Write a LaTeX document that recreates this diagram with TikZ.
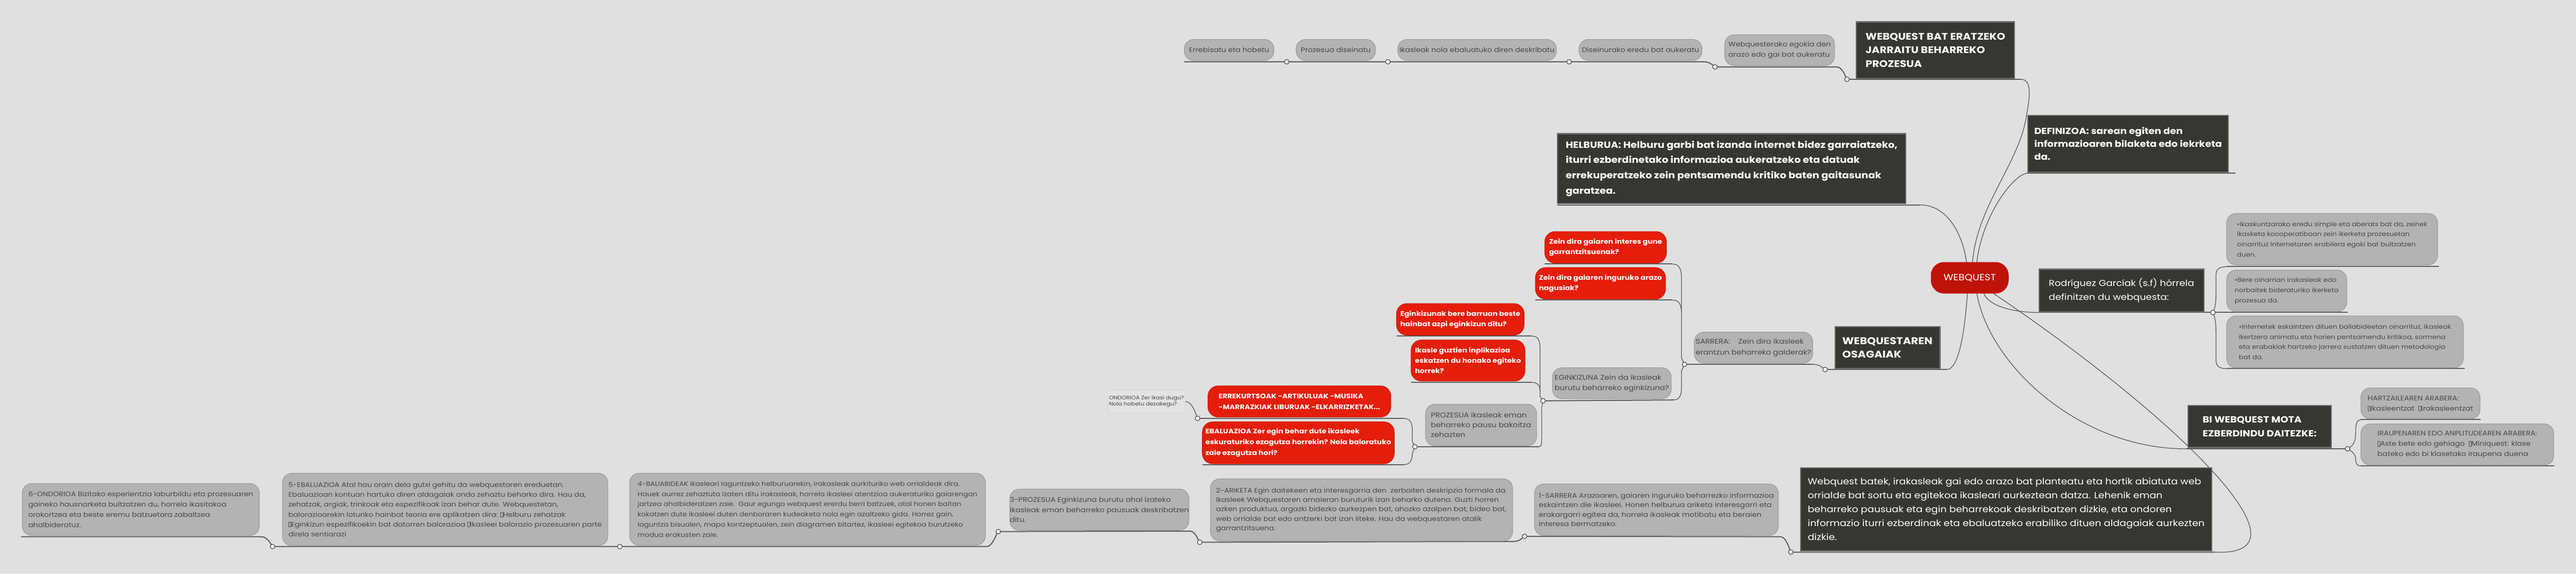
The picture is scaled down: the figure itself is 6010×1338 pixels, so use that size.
\documentclass[tikz,border=0pt]{standalone}
\usepackage{fontspec}
\setmainfont{Poppins}[FakeStretch=1.12]
\usetikzlibrary{backgrounds}
\definecolor{bg}{HTML}{E0E0E0}
\definecolor{gfill}{HTML}{B3B3B3}
\definecolor{gborder}{HTML}{9C9C9C}
\definecolor{gtext}{HTML}{484848}
\definecolor{rfill}{HTML}{E41E0B}
\definecolor{rborder}{HTML}{C8180A}
\definecolor{dfill}{HTML}{363632}
\definecolor{dborder}{HTML}{6A6A6A}
\definecolor{wqfill}{HTML}{BE1308}
\definecolor{lcol}{HTML}{5A5A5A}
\definecolor{cfill}{HTML}{F2F2F2}
\definecolor{lfill}{HTML}{E3E3E3}
\definecolor{lborder}{HTML}{D4D4D4}
\newcommand\myfs[2]{\fontsize{#1}{#2}\selectfont}
\newcommand\tofu{{\fboxsep=0pt\fboxrule=0.6pt\fbox{\rule{0pt}{0.7em}\hspace{0.32em}}}}
\tikzset{
  base/.style={inner sep=0pt, outer sep=0pt, align=left, anchor=north west},
  gbox/.style={base, draw=gborder, line width=1.5pt, fill=gfill, rounded corners=22pt, text=gtext},
  rbox/.style={base, draw=rborder, line width=1pt, fill=rfill, rounded corners=24pt, text=white, font=\bfseries},
  dbox/.style={base, draw=dborder, line width=2.6pt, fill=dfill, text=white},
  lbox/.style={base, draw=lborder, line width=1pt, fill=lfill, text=gtext},
  uline/.style={draw=lcol, line width=2.4pt},
  conn/.style={draw=lcol, line width=1.6pt},
  jc/.style={circle, draw=lcol, line width=1.6pt, fill=cfill, minimum size=11pt, inner sep=0pt, outer sep=0pt},
}
\begin{document}
\begin{tikzpicture}[x=1pt,y=-1pt]
\useasboundingbox (0,0) rectangle (6010,1338);

% ---------- top chain ----------
\node[gbox, minimum width=209pt, minimum height=49pt, font=\myfs{15.5}{20}] (nErr) at (2763,92) {Errebisatu eta hobetu};
\node[gbox, minimum width=185pt, minimum height=49pt, font=\myfs{15.5}{20}] (nProz) at (3024,92) {Prozesua diseinatu};
\node[gbox, minimum width=370pt, minimum height=49pt, font=\myfs{15.5}{20}] (nIkas) at (3261,92) {Ikasleak nola ebaluatuko diren deskribatu};
\node[gbox, minimum width=287pt, minimum height=49pt, font=\myfs{15.5}{20}] (nDis) at (3684,92) {Diseinurako eredu bat aukeratu};
\node[gbox, minimum width=256pt, minimum height=72pt, font=\myfs{15.5}{24}] (nWebq) at (4024,81) {Webquesterako egokia den\\arazo edo gai bat aukeratu};
\node[dbox, minimum width=369pt, minimum height=132pt, font=\myfs{22.3}{32}\bfseries] (dProc) at (4331,51) {WEBQUEST BAT ERATZEKO\\JARRAITU BEHARREKO\\PROZESUA};

% ---------- centre and big boxes ----------
\node[base, anchor=center, draw=rborder, line width=1.5pt, fill=wqfill, rounded corners=30pt, minimum width=180pt, minimum height=72pt, text=white, font=\myfs{21}{26}] (WQ) at (4595.5,648) {WEBQUEST};
\node[dbox, minimum width=812pt, minimum height=163pt, font=\myfs{21}{36}\bfseries] (dHelb) at (3634,312) {HELBURUA: Helburu garbi bat izanda internet bidez garraiatzeko,\\iturri ezberdinetako informazioa aukeratzeko eta datuak\\errekuperatzeko zein pentsamendu kritiko baten gaitasunak\\garatzea.};
\node[dbox, minimum width=468pt, minimum height=132pt, font=\myfs{20.5}{30}\bfseries] (dDef) at (4731,269) {DEFINIZOA: sarean egiten den\\informazioaren bilaketa edo iekrketa\\da.};

% ---------- osagaiak subtree ----------
\node[rbox, minimum width=284pt, minimum height=74pt, font=\myfs{15.3}{24}\bfseries] (rZ1) at (3604,540) {Zein dira gaiaren interes gune\\garrantzitsuenak?};
\node[rbox, minimum width=304pt, minimum height=74pt, font=\myfs{15.3}{24}\bfseries] (rZ2) at (3582,624) {Zein dira gaiaren inguruko arazo\\nagusiak?};
\node[gbox, minimum width=276pt, minimum height=72pt, font=\myfs{16}{25}] (gSar) at (3953,775) {SARRERA:\ \ \ \ Zein dira ikasleek\\erantzun beharreko galderak?};
\node[dbox, minimum width=245pt, minimum height=98pt, font=\myfs{23}{32}\bfseries] (dOsg) at (4281,762) {WEBQUESTAREN\\OSAGAIAK};
\node[rbox, minimum width=298pt, minimum height=74pt, font=\myfs{15.3}{24}\bfseries] (rEgk) at (3258,708) {Eginkizunak bere barruan beste\\hainbat azpi eginkizun ditu?};
\node[rbox, minimum width=266pt, minimum height=96pt, font=\myfs{15.3}{24}\bfseries] (rIks) at (3292,793) {Ikasle guztien inplikazioa\\eskatzen du honako egiteko\\horrek?};
\node[gbox, minimum width=277pt, minimum height=72pt, font=\myfs{16}{24}] (gEgk) at (3622,858) {EGINKIZUNA Zein da ikasleak\\burutu beharreko eginkizuna?};
\node[gbox, minimum width=259pt, minimum height=97pt, font=\myfs{16}{23}] (gPrz) at (3326,943) {PROZESUA Ikasleak eman\\beharreko pausu bakoitza\\zehazten};
\node[rbox, minimum width=427pt, minimum height=73pt, font=\myfs{15.3}{25}\bfseries] (rErr) at (2818,900) {ERREKURTSOAK -ARTIKULUAK -MUSIKA\\-MARRAZKIAK LIBURUAK -ELKARRIZKETAK...};
\node[rbox, minimum width=448pt, minimum height=98pt, font=\myfs{15.3}{25}\bfseries] (rEbl) at (2805,984) {EBALUAZIOA Zer egin behar dute ikasleek\\eskuraturiko ezagutza horrekin? Nola baloratuko\\zaie ezagutza hori?};
\node[lbox, minimum width=180pt, minimum height=53pt, font=\myfs{12}{15}] (nOnd) at (2585,910) {ONDORIOA Zer ikasi dugu?\\Nola hobetu dezakegu?};

% ---------- Rodriguez subtree ----------
\node[dbox, minimum width=385pt, minimum height=99pt, font=\myfs{20}{33}] (dRod) at (4757,628) {Rodríguez Garcíak (s.f) hórrela\\definitzen du webquesta:};
\node[gbox, minimum width=492pt, minimum height=120pt, font=\myfs{14.2}{23.7}] (gR1) at (5195,498) {•Ikaskuntzarako eredu simple eta aberats bat da, zeinek\\ikasketa koooperatiboan zein ikerketa prozesuetan\\oinarrituz Internetaren erabilera egoki bat bultzatzen\\duen.};
\node[gbox, minimum width=280pt, minimum height=97pt, font=\myfs{14.2}{23.7}] (gR2) at (5195,630) {•Bere oinarrian irakasleak edo\\norbaitek bideraturiko ikerketa\\prozesua da.};
\node[gbox, minimum width=552pt, minimum height=121pt, font=\myfs{14.2}{23.7}] (gR3) at (5195,737) {•Internetek eskaintzen dituen baliabideetan oinarrituz, ikasleak\\ikertzera animatu eta horien pentsamendu kritikoa, sormena\\eta erabakiak hartzeko jarrera sustatzen dituen metodologia\\bat da.};

% ---------- BI WEBQUEST subtree ----------
\node[dbox, minimum width=334pt, minimum height=98pt, font=\myfs{20.8}{32}\bfseries] (dBi) at (5105,946) {BI WEBQUEST MOTA\\EZBERDINDU DAITEZKE:};
\node[gbox, minimum width=278pt, minimum height=72pt, font=\myfs{15.5}{24}] (gHz) at (5508,905) {HARTZAILEAREN ARABERA:\\\tofu Ikasleentzat\ \ \tofu Irakasleentzat};
\node[gbox, minimum width=450pt, minimum height=96pt, font=\myfs{15.5}{24}] (gIr) at (5508,989) {IRAUPENAREN EDO ANPLITUDEAREN ARABERA:\\\tofu Aste bete edo gehiago\ \ \tofu Miniquest: klase\\bateko edo bi klasetako iraupena duena};

% ---------- bottom chain ----------
\node[dbox, minimum width=959pt, minimum height=194pt, font=\myfs{20.5}{32.5}] (dWb) at (4201,1091) {Webquest batek, irakasleak gai edo arazo bat planteatu eta hortik abiatuta web\\orrialde bat sortu eta egitekoa ikasleari aurkeztean datza. Lehenik eman\\beharreko pausuak eta egin beharrekoak deskribatzen dizkie, eta ondoren\\informazio iturri ezberdinak eta ebaluatzeko erabiliko dituen aldagaiak aurkezten\\dizkie.};
\node[gbox, minimum width=569pt, minimum height=120pt, font=\myfs{15.5}{22}] (gS1) at (3580,1129) {1-SARRERA Arazoaren, gaiaren inguruko beharrezko informazioa\\eskaintzen die ikasleei. Honen helburua ariketa interesgarri eta\\erakargarri egitea da, horrela ikasleak motibatu eta beraien\\interesa bermatzeko.};
\node[gbox, minimum width=705pt, minimum height=145pt, font=\myfs{15.2}{22}] (gS2) at (2824,1117) {2-ARIKETA Egin daitekeen eta interesgarria den\ \ zerbaiten deskripzio formala da.\\Ikasleek Webquestaren amaieran buruturik izan beharko dutena. Guzti horren\\azken produktua, argazki bidezko aurkezpen bat, ahozko azalpen bat, bideo bat,\\web orrialde bat edo antzerki bat izan liteke. Hau da webquestaren atalik\\garrantzitsuena.};
\node[gbox, minimum width=413pt, minimum height=96pt, font=\myfs{15.6}{23}] (gS3) at (2356,1141) {3-PROZESUA Eginkizuna burutu ahal izateko\\ikasleak eman beharreko pausuak deskribatzen\\ditu.};
\node[gbox, minimum width=830pt, minimum height=168pt, font=\myfs{14.7}{24}] (gS4) at (1469,1104) {4-BALIABIDEAK Ikasleari laguntzeko helburuarekin, irakasleak aurkituriko web orrialdeak dira.\\Hauek aurrez zehaztuta izaten ditu irakasleak, horrela ikasleei atentzioa aukeraturiko gaiarengan\\jartzea ahalbideratzen zaie.\ \ Gaur egungo webquest ererdu berri batzuek, atal honen baitan\\kokatzen dute ikasleei duten denboraren kudeaketa nola egin azaltzeko gida. Horrez gain,\\laguntza bisualen, mapa kontzeptualen, zein diagramen bitartez, ikasleei egitekoa burutzeko\\modua erakusten zaie.};
\node[gbox, minimum width=759pt, minimum height=169pt, font=\myfs{15.2}{23}] (gS5) at (659,1104) {5-EBALUAZIOA Atal hau orain dela gutxi gehitu da webquestaren ereduetan.\\Ebaluazioan kontuan hartuko diren aldagaiak ondo zehaztu beharko dira. Hau da,\\zehatzak, argiak, trinkoak eta espezifikoak izan behar dute. Webquestetan,\\balorazioarekin loturiko hainbat teoria ere aplikatzen dira: \tofu Helburu zehatzak\\\tofu Eginkizun espezifikoekin bat datorren balorazioa \tofu Ikasleei balorazio prozesuaren parte\\direla sentiarazi};
\node[gbox, minimum width=553pt, minimum height=121pt, font=\myfs{15.3}{24}] (gS6) at (52,1128) {6-ONDORIOA Bizitako esperientzia laburbildu eta prozesuaren\\gaineko hausnarketa bultzatzen du, horrela ikasitakoa\\orokortzea eta beste eremu batzuetara zabaltzea\\ahalbideratuz.};

% ---------- junction circles ----------
\node[jc] (j1) at (3002,144) {};
\node[jc] (j2) at (3238,144) {};
\node[jc] (j3) at (3661,144) {};
\node[jc] (j4) at (4001,156) {};
\node[jc] (j5) at (4309,185) {};
\node[jc] (jSar) at (3930,850) {};
\node[jc] (jOsg) at (4258,862) {};
\node[jc] (jEgk) at (3600,935) {};
\node[jc] (jPrz) at (3301,1042) {};
\node[jc] (jErr) at (2794,976) {};
\node[jc] (jRod) at (5163,729) {};
\node[jc] (jBi) at (5477,1047) {};
\node[jc] (jWb) at (4178,1288) {};
\node[jc] (jS1) at (3557,1251) {};
\node[jc] (jS2) at (2799,1265) {};
\node[jc] (jS3) at (2329,1240) {};
\node[jc] (jS4) at (1446,1275) {};
\node[jc] (jS5) at (636,1275) {};

\begin{scope}[on background layer]
\fill[bg] (0,0) rectangle (6010,1338);
% top chain
\draw[uline] (2763,144) -- (j1.center) -- (j2.center) -- (j3.center) -- (3974,144) .. controls (3988,144) and (3994,150) .. (j4.center) -- (4284,156) .. controls (4297,156) and (4303,172) .. (j5.center) -- (4715,185);
\draw[conn] (4715,185) .. controls (4742,185) and (4735,230) .. (4728,269) .. controls (4712,380) and (4612,480) .. (4602,612);
% helburua, definizoa
\draw[uline] (3634,478) -- (4480,478);
\draw[conn] (4480,478) .. controls (4540,478) and (4578,540) .. (4588,612);
\draw[uline] (5216,404) -- (4731,404);
\draw[conn] (4731,404) .. controls (4700,404) and (4625,500) .. (4612,612);
% rodriguez
\draw[uline] (4757,729) -- (jRod.center) -- (5477,729);
\draw[conn] (4757,729) .. controls (4700,729) and (4640,715) .. (4628,684);
\draw[conn] (jRod.center) .. controls (5169,715) and (5170,705) .. (5170,680) -- (5170,642) .. controls (5170,628) and (5178,622) .. (5195,622);
\draw[uline] (5195,622) -- (5690,622);
\draw[conn] (jRod.center) .. controls (5169,745) and (5170,755) .. (5170,780) -- (5170,840) .. controls (5170,854) and (5178,860) .. (5195,860);
\draw[uline] (5195,860) -- (5750,860);
% osagaiak
\draw[uline] (jOsg.center) -- (4542,862);
\draw[conn] (4542,862) .. controls (4572,862) and (4585,760) .. (4590,684);
\draw[uline] (jSar.center) -- (4230,850);
\draw[conn] (4230,850) .. controls (4244,850) and (4250,856) .. (jOsg.center);
\draw[uline] (3604,616) -- (3902,616);
\draw[conn] (3902,616) .. controls (3918,616) and (3923,628) .. (3923,650) -- (3923,835) -- (jSar.center);
\draw[uline] (3582,700) -- (3902,700);
\draw[conn] (3902,700) .. controls (3918,700) and (3923,712) .. (3923,730);
\draw[uline] (jEgk.center) -- (3905,933);
\draw[conn] (3905,933) .. controls (3918,933) and (3923,922) .. (3923,905) -- (3923,865) -- (jSar.center);
\draw[uline] (3258,784) -- (3574,784);
\draw[conn] (3574,784) .. controls (3588,784) and (3593,794) .. (3593,812) -- (3593,925) -- (jEgk.center);
\draw[uline] (3292,892) -- (3574,892);
\draw[conn] (3574,892) .. controls (3588,892) and (3593,900) .. (3593,912);
\draw[uline] (jPrz.center) -- (3590,1042);
\draw[conn] (3590,1042) .. controls (3598,1042) and (3597,1030) .. (3597,1015) -- (3597,950) -- (jEgk.center);
\draw[uline] (jErr.center) -- (3275,976);
\draw[conn] (3275,976) .. controls (3289,976) and (3295,986) .. (3295,1002) -- (3295,1030) -- (jPrz.center);
\draw[uline] (2805,1084) -- (3275,1084);
\draw[conn] (3275,1084) .. controls (3289,1084) and (3295,1074) .. (3295,1058) -- (jPrz.center);
\draw[conn] (nOnd.east) .. controls (2780,936) and (2788,960) .. (jErr.center);
% bi webquest
\draw[uline] (5100,1047) -- (jBi.center);
\draw[conn] (5100,1047) .. controls (4850,1047) and (4640,850) .. (4612,684);
\draw[conn] (jBi.center) .. controls (5494,1038) and (5496,1025) .. (5496,1005) .. controls (5496,987) and (5500,979) .. (5508,979);
\draw[uline] (5508,979) -- (5788,979);
\draw[conn] (jBi.center) .. controls (5494,1056) and (5496,1065) .. (5496,1072) .. controls (5496,1082) and (5500,1087) .. (5508,1087);
\draw[uline] (5508,1087) -- (5960,1087);
% bottom chain
\draw[uline] (49,1252) -- (609,1252) .. controls (621,1252) and (628,1262) .. (jS5.center) -- (jS4.center) -- (2302,1275) .. controls (2315,1275) and (2322,1250) .. (jS3.center) -- (2776,1239) .. controls (2788,1239) and (2793,1255) .. (jS2.center) -- (3532,1263) .. controls (3545,1263) and (3550,1256) .. (jS1.center) -- (4153,1252) .. controls (4166,1252) and (4172,1272) .. (jWb.center) -- (5167,1288);
\draw[conn] (5167,1288) .. controls (5420,1300) and (5060,960) .. (4650,684);
\end{scope}
\end{tikzpicture}
\end{document}
